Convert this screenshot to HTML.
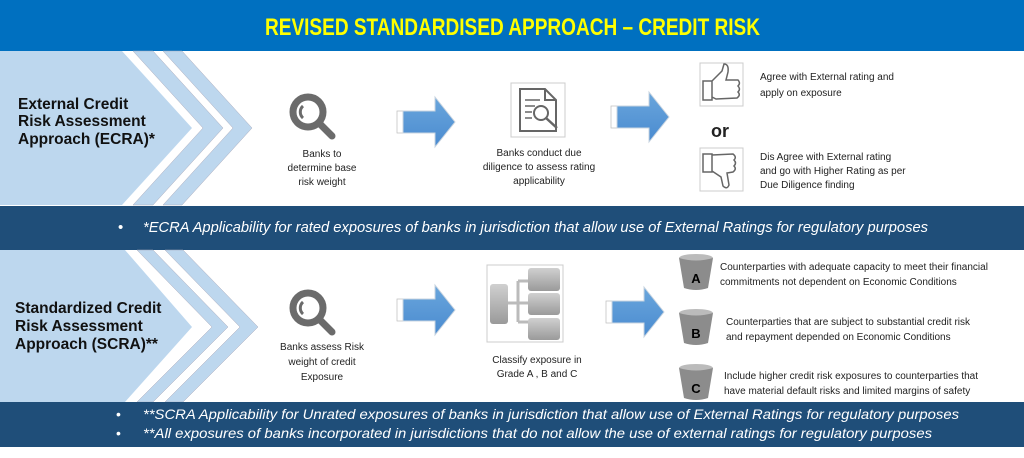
<!DOCTYPE html>
<html><head><meta charset="utf-8"><style>
body{margin:0;width:1024px;height:453px;overflow:hidden;background:#fff;font-family:"Liberation Sans",sans-serif}
svg text{font-family:"Liberation Sans",sans-serif}
</style></head><body>
<svg width="1024" height="453" viewBox="0 0 1024 453" xmlns="http://www.w3.org/2000/svg">
<defs>
<linearGradient id="ar" x1="0" y1="0" x2="0" y2="1"><stop offset="0" stop-color="#6aa6dc"/><stop offset="1" stop-color="#4a8bd0"/></linearGradient>
<linearGradient id="gb" x1="0" y1="0" x2="0" y2="1"><stop offset="0" stop-color="#d0d0d0"/><stop offset="1" stop-color="#9a9a9a"/></linearGradient>
<g id="arrow"><rect x="0" y="14" width="6" height="22" fill="#fff" stroke="#bbb" stroke-width="0.7"/><polygon points="6,14 38,14 38,0 58,25 38,50 38,36 6,36" fill="url(#ar)" stroke="#c8d4e0" stroke-width="1"/></g>
<g id="mag"><circle cx="0" cy="0" r="15" fill="none" stroke="#6b6b6b" stroke-width="7"/><path d="M-5,-6 A8,8 0 0 0 -5,6" fill="none" stroke="#6b6b6b" stroke-width="3"/><line x1="11" y1="11" x2="24" y2="24" stroke="#6b6b6b" stroke-width="7" stroke-linecap="round"/></g>
<g id="bucket"><ellipse cx="17" cy="4" rx="17" ry="4" fill="#bbb"/><path d="M0,4 L5,34 Q17,38 29,34 L34,4 Q17,9 0,4Z" fill="#8c8c8c"/></g>
</defs>
<rect x="0" y="0" width="1024" height="51" fill="#0070c0"/>
<text x="265" y="35" font-size="24" font-weight="bold" fill="#ffff00" textLength="495" lengthAdjust="spacingAndGlyphs">REVISED STANDARDISED APPROACH – CREDIT RISK</text>
<!-- row1 chevrons -->
<polygon points="163,51 182,51 252,128 182,205 163,205 233,128" fill="#bdd7ee" stroke="#aab" stroke-width="0.5"/>
<polygon points="133,51 153,51 223,128 153,205 133,205 203,128" fill="#bdd7ee" stroke="#aab" stroke-width="0.5"/>
<polygon points="0,51 122,51 192,128 122,205 0,205" fill="#bdd7ee"/>
<text font-size="15.5" font-weight="bold" fill="#111"><tspan x="18" y="109">External Credit</tspan><tspan x="18" y="126">Risk Assessment</tspan><tspan x="18" y="144">Approach (ECRA)*</tspan></text>
<use href="#mag" x="308" y="112"/>
<text font-size="10" fill="#222" text-anchor="middle"><tspan x="322" y="157">Banks to</tspan><tspan x="322" y="171">determine base</tspan><tspan x="322" y="185">risk weight</tspan></text>
<use href="#arrow" x="397" y="97"/>
<rect x="511" y="83" width="54" height="54" fill="#fff" stroke="#ccc"/>
<path d="M520,89 L545,89 L556,100 L556,131 L520,131Z M545,89 L545,100 L556,100" fill="none" stroke="#666" stroke-width="2"/>
<g stroke="#666" stroke-width="1.5"><line x1="525" y1="100" x2="540" y2="100"/><line x1="525" y1="106" x2="535" y2="106"/><line x1="525" y1="112" x2="532" y2="112"/><line x1="525" y1="118" x2="532" y2="118"/></g>
<circle cx="541" cy="113" r="7" fill="#fff" stroke="#666" stroke-width="2"/><line x1="546" y1="118" x2="557" y2="128" stroke="#666" stroke-width="2.5"/>
<text font-size="10" fill="#222" text-anchor="middle"><tspan x="539" y="156">Banks conduct due</tspan><tspan x="539" y="170">diligence to assess rating</tspan><tspan x="539" y="184">applicability</tspan></text>
<use href="#arrow" x="611" y="92"/>
<rect x="700" y="63" width="43" height="43" fill="#fff" stroke="#ccc"/>
<path d="M703,81 L712,81 L712,100 L703,100Z M712,81 L722,71 L724,64 Q729,64 728,72 L726,80 L738,80 Q741,83 738,86 Q741,89 738,92 Q741,95 737,98 L716,99 L712,97" fill="none" stroke="#666" stroke-width="1.5"/>
<text x="720" y="137" text-anchor="middle" font-size="18" font-weight="bold" fill="#222">or</text>
<rect x="700" y="148" width="43" height="43" fill="#fff" stroke="#ccc"/>
<path d="M703,154 L712,154 L712,172 L703,172Z M712,155 L733,154 Q737,157 734,160 Q737,163 734,166 Q737,169 733,172 L727,173 L729,185 Q727,190 723,186 L721,177 L712,171" fill="none" stroke="#666" stroke-width="1.5"/>
<text font-size="10" fill="#222"><tspan x="760" y="80">Agree with External rating and</tspan><tspan x="760" y="96">apply on exposure</tspan><tspan x="760" y="160">Dis Agree with External rating</tspan><tspan x="760" y="174">and go with Higher Rating as per</tspan><tspan x="760" y="188">Due Diligence finding</tspan></text>
<rect x="0" y="206" width="1024" height="44" fill="#1f4e79"/>
<text x="118" y="232" font-size="15" fill="#fff">•</text>
<text x="143" y="232" font-size="15" font-style="italic" fill="#fff" textLength="785" lengthAdjust="spacingAndGlyphs">*ECRA Applicability for rated exposures of banks in jurisdiction that allow use of External Ratings for regulatory purposes</text>
<!-- row2 chevrons -->
<polygon points="165,250 183,250 258,327 183,402 165,402 240,327" fill="#bdd7ee" stroke="#aab" stroke-width="0.5"/>
<polygon points="137,250 153,250 228,327 153,402 137,402 212,327" fill="#bdd7ee" stroke="#aab" stroke-width="0.5"/>
<polygon points="0,250 125,250 192,327 125,402 0,402" fill="#bdd7ee"/>
<text font-size="15.5" font-weight="bold" fill="#111"><tspan x="15" y="313">Standardized Credit</tspan><tspan x="15" y="331">Risk Assessment</tspan><tspan x="15" y="349">Approach (SCRA)**</tspan></text>
<use href="#mag" x="308" y="308"/>
<text font-size="10" fill="#222" text-anchor="middle"><tspan x="322" y="350">Banks assess Risk</tspan><tspan x="322" y="365">weight of credit</tspan><tspan x="322" y="380">Exposure</tspan></text>
<use href="#arrow" x="397" y="285"/>
<rect x="487" y="265" width="76" height="77" fill="#fff" stroke="#ccc"/>
<path d="M506,303 L518,303 M518,281 L518,322 M518,281 L528,281 M518,303 L528,303 M518,322 L528,322" stroke="#bbb" stroke-width="3" fill="none"/>
<rect x="490" y="284" width="18" height="40" rx="3" fill="url(#gb)"/>
<rect x="528" y="268" width="32" height="23" rx="3" fill="url(#gb)"/>
<rect x="528" y="293" width="32" height="22" rx="3" fill="url(#gb)"/>
<rect x="528" y="318" width="32" height="22" rx="3" fill="url(#gb)"/>
<text font-size="10" fill="#222" text-anchor="middle"><tspan x="537" y="363">Classify exposure in</tspan><tspan x="537" y="377">Grade A , B and C</tspan></text>
<use href="#arrow" x="606" y="287"/>
<use href="#bucket" x="679" y="254"/><text x="696" y="283" text-anchor="middle" font-size="13" font-weight="bold">A</text>
<use href="#bucket" x="679" y="309"/><text x="696" y="338" text-anchor="middle" font-size="13" font-weight="bold">B</text>
<use href="#bucket" x="679" y="364"/><text x="696" y="393" text-anchor="middle" font-size="13" font-weight="bold">C</text>
<text font-size="10" fill="#222"><tspan x="720" y="270">Counterparties with adequate capacity to meet their financial</tspan><tspan x="720" y="285">commitments not dependent on Economic Conditions</tspan><tspan x="726" y="325">Counterparties that are subject to substantial credit risk</tspan><tspan x="726" y="340">and repayment depended on Economic Conditions</tspan><tspan x="724" y="379">Include higher credit risk exposures to counterparties that</tspan><tspan x="724" y="394">have material default risks and limited margins of safety</tspan></text>
<rect x="0" y="402" width="1024" height="45" fill="#1f4e79"/>
<text font-size="14" fill="#fff"><tspan x="116" y="419">•</tspan><tspan x="116" y="438">•</tspan></text>
<text x="143" y="419" font-size="14" font-style="italic" fill="#fff" textLength="816" lengthAdjust="spacingAndGlyphs">**SCRA Applicability for Unrated exposures of banks in jurisdiction that allow use of External Ratings for regulatory purposes</text>
<text x="143" y="438" font-size="14" font-style="italic" fill="#fff" textLength="789" lengthAdjust="spacingAndGlyphs">**All exposures of banks incorporated in jurisdictions that do not allow the use of external ratings for regulatory purposes</text>
</svg>
</body></html>
